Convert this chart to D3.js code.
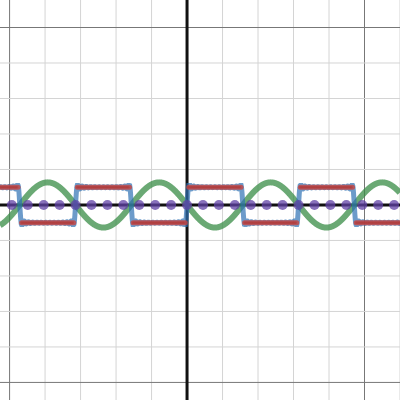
<!DOCTYPE html><html><head><script src="https://cdn.jsdelivr.net/npm/d3@7"></script>
<style>body{margin:0;background:#fff}</style></head><body><svg width="400" height="400"></svg>
<script>
const xDomain=[-5.27,6.0], yDomain=[-5.495,5.775];
const squareAmp=0.5;            // square wave height
const harmonics=[1,3,5,7,9,11,13,15,17,19,21,23,25]; // Fourier odd terms for blue partial sum
const greenSign=[-1];           // green first harmonic sign
const dotStep=Math.PI/7;       // purple sample spacing
const svg=d3.select("svg");
const x=d3.scaleLinear().domain(xDomain).range([0,400]);
const y=d3.scaleLinear().domain(yDomain).range([400,0]);
for(let v=-5;v<=6;v++){svg.append("line").attr("x1",x(v)).attr("x2",x(v)).attr("y1",0).attr("y2",400).attr("stroke",v%5==0?"#777":"#d4d4d4").attr("stroke-width",1);}
for(let v=-5;v<=5;v++){svg.append("line").attr("y1",y(v)).attr("y2",y(v)).attr("x1",0).attr("x2",400).attr("stroke",v%5==0?"#777":"#d4d4d4").attr("stroke-width",1);}
svg.append("line").attr("x1",x(0)).attr("x2",x(0)).attr("y1",0).attr("y2",400).attr("stroke","#111").attr("stroke-width",3);
svg.append("line").attr("y1",y(0)).attr("y2",y(0)).attr("x1",0).attr("x2",400).attr("stroke","#111").attr("stroke-width",3);
const xs=d3.range(xDomain[0],xDomain[1],0.005);
const fourier=(t,terms)=>terms.reduce((s,n)=>s+4*squareAmp/Math.PI*Math.sin(2*n*t)/n,0);
const sq=t=>Math.sin(2*t)>=0?squareAmp:-squareAmp;
const line=d3.line().x(d=>x(d[0])).y(d=>y(d[1]));
svg.append("path").attr("d",line(xs.map(t=>[t,greenSign[0]*fourier(t,[1])]))).attr("fill","none").attr("stroke","#388c46").attr("stroke-width",6).attr("stroke-opacity",0.75);
svg.append("path").attr("d",line(xs.map(t=>[t,Math.max(-0.55,Math.min(0.55,fourier(t,harmonics)))]))).attr("fill","none").attr("stroke","#2d70b3").attr("stroke-width",5).attr("stroke-opacity",0.7).attr("stroke-linecap","round");
const half=Math.PI/2;
for(let k=Math.floor(xDomain[0]/half)-1;k<=xDomain[1]/half;k++){
  const a=k*half+0.05,b=(k+1)*half-0.05,v=sq(k*half+0.1);
  svg.append("path").attr("d",line([[a,v],[b,v]])).attr("stroke","#c74440").attr("stroke-width",5).attr("stroke-opacity",0.8).attr("stroke-linecap","round");
  d3.range(a,b,0.04).forEach(t=>svg.append("circle").attr("cx",x(t)).attr("cy",y(v)).attr("r",1.3).attr("fill","#b03a3a").attr("fill-opacity",0.6));
}
const dots=d3.range(Math.ceil(xDomain[0]/dotStep),Math.floor(xDomain[1]/dotStep)+1).map(k=>k*dotStep);
svg.selectAll(".p").data(dots).enter().append("circle").attr("cx",d=>x(d)).attr("cy",y(0)).attr("r",5).attr("fill","#6042a6").attr("fill-opacity",0.75);
</script></body></html>
